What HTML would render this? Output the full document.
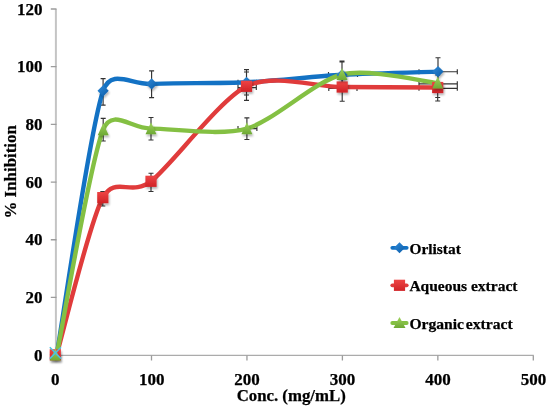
<!DOCTYPE html><html><head><meta charset="utf-8"><style>html,body{margin:0;padding:0;background:#fff;}svg{display:block}text{font-family:"Liberation Serif","Times New Roman",serif;font-weight:bold;fill:#000;stroke:#000;stroke-width:0.25px}</style></head><body>
<svg width="550" height="408" viewBox="0 0 550 408">
<defs>
<linearGradient id="gB" x1="0" y1="0" x2="1" y2="1"><stop offset="0" stop-color="#2F8BDA"/><stop offset="1" stop-color="#0B5CA8"/></linearGradient>
<linearGradient id="gR" x1="0" y1="0" x2="0" y2="1"><stop offset="0" stop-color="#EE4444"/><stop offset="1" stop-color="#D02226"/></linearGradient>
<linearGradient id="gG" x1="0" y1="0" x2="0" y2="1"><stop offset="0" stop-color="#9ED35C"/><stop offset="1" stop-color="#6EA934"/></linearGradient>
<filter id="sh" x="-50%" y="-50%" width="200%" height="200%"><feGaussianBlur in="SourceAlpha" stdDeviation="1"/><feOffset dx="1.2" dy="1.5"/><feComponentTransfer><feFuncA type="linear" slope="0.3"/></feComponentTransfer><feMerge><feMergeNode/><feMergeNode in="SourceGraphic"/></feMerge></filter>
</defs>
<path d="M55.9,9 V355" stroke="#c4c4c4" stroke-width="2" fill="none"/>
<path d="M55,355.4 H533.8" stroke="#ababab" stroke-width="1.4" fill="none"/>
<path d="M50.8,355.10 H56.5 M50.8,297.42 H56.5 M50.8,239.73 H56.5 M50.8,182.05 H56.5 M50.8,124.37 H56.5 M50.8,66.68 H56.5 M50.8,9.00 H56.5 M151.50,355.4 V360.4 M246.95,355.4 V360.4 M342.40,355.4 V360.4 M437.85,355.4 V360.4 M533.30,355.4 V360.4 " stroke="#9c9c9c" stroke-width="1.3" fill="none"/>
<text x="42.6" y="360.7" font-size="17" text-anchor="end">0</text>
<text x="42.6" y="303.0" font-size="17" text-anchor="end">20</text>
<text x="42.6" y="245.3" font-size="17" text-anchor="end">40</text>
<text x="42.6" y="187.7" font-size="17" text-anchor="end">60</text>
<text x="42.6" y="130.0" font-size="17" text-anchor="end">80</text>
<text x="42.6" y="72.3" font-size="17" text-anchor="end">100</text>
<text x="42.6" y="14.6" font-size="17" text-anchor="end">120</text>
<text x="55.3" y="384.7" font-size="17" text-anchor="middle">0</text>
<text x="151.7" y="384.7" font-size="17" text-anchor="middle">100</text>
<text x="247.1" y="384.7" font-size="17" text-anchor="middle">200</text>
<text x="342.6" y="384.7" font-size="17" text-anchor="middle">300</text>
<text x="438.0" y="384.7" font-size="17" text-anchor="middle">400</text>
<text x="533.5" y="384.7" font-size="17" text-anchor="middle">500</text>
<text x="291.2" y="400.8" font-size="16.8" text-anchor="middle">Conc. (mg/mL)</text>
<text transform="translate(16,171.8) rotate(-90)" x="0" y="0" font-size="16.9" text-anchor="middle">% Inhibition</text>
<path d="M103.1,78.6 V105.1 M100.6,78.6 H105.6 M100.6,105.1 H105.6 M151.6,70.8 V97.6 M149.1,70.8 H154.1 M149.1,97.6 H154.1 M246.5,69.6 V95.0 M244.0,69.6 H249.0 M244.0,95.0 H249.0 M342.0,61.0 V88.0 M339.5,61.0 H344.5 M339.5,88.0 H344.5 M438.0,57.7 V84.7 M435.5,57.7 H440.5 M435.5,84.7 H440.5 M238.0,82.3 H256.3 M238.0,79.8 V84.8 M256.3,79.8 V84.8 M328.5,74.5 H357.5 M328.5,72.0 V77.0 M357.5,72.0 V77.0 M419.0,71.7 H457.3 M419.0,69.2 V74.2 M457.3,69.2 V74.2 M102.8,191.5 V206.0 M100.3,191.5 H105.3 M100.3,206.0 H105.3 M151.0,173.2 V191.5 M148.5,173.2 H153.5 M148.5,191.5 H153.5 M246.5,72.0 V100.4 M244.0,72.0 H249.0 M244.0,100.4 H249.0 M342.2,73.0 V101.2 M339.7,73.0 H344.7 M339.7,101.2 H344.7 M437.7,75.0 V101.0 M435.2,75.0 H440.2 M435.2,101.0 H440.2 M238.0,87.6 H256.3 M238.0,85.1 V90.1 M256.3,85.1 V90.1 M328.8,88.5 H357.0 M328.8,86.0 V91.0 M357.0,86.0 V91.0 M419.0,88.3 H457.3 M419.0,85.8 V90.8 M457.3,85.8 V90.8 M103.2,118.4 V141.0 M100.7,118.4 H105.7 M100.7,141.0 H105.7 M151.0,117.5 V140.0 M148.5,117.5 H153.5 M148.5,140.0 H153.5 M246.9,117.8 V139.5 M244.4,117.8 H249.4 M244.4,139.5 H249.4 M342.0,62.0 V88.0 M339.5,62.0 H344.5 M339.5,88.0 H344.5 M437.7,72.0 V97.5 M435.2,72.0 H440.2 M435.2,97.5 H440.2 M238.0,128.6 H256.9 M238.0,126.1 V131.1 M256.9,126.1 V131.1 M419.0,83.8 H457.3 M419.0,81.3 V86.3 M457.3,81.3 V86.3 " stroke="#333333" stroke-width="1.15" fill="none"/>
<path d="M56.80,354.30 C63.28,317.41 89.83,128.66 103.10,90.80 C111.20,67.69 131.52,85.09 151.60,83.90 C171.68,82.71 219.84,83.57 246.50,82.30 C273.16,81.03 315.19,76.30 342.00,74.80 C368.81,73.30 424.56,72.05 438.00,71.60" stroke="#1372C4" stroke-width="4.4" fill="none" stroke-linejoin="round" stroke-linecap="round"/>
<path d="M56.80,354.30 C63.24,332.36 89.61,221.82 102.80,197.60 C114.97,175.26 130.89,196.88 151.00,181.30 C171.12,165.72 219.73,99.50 246.50,86.30 C273.27,73.10 315.43,86.83 342.20,87.00 C368.97,87.17 424.33,87.43 437.70,87.50" stroke="#E03B3B" stroke-width="4.4" fill="none" stroke-linejoin="round" stroke-linecap="round"/>
<path d="M56.80,354.30 C63.30,322.84 90.01,161.20 103.20,129.60 C112.41,107.54 130.88,128.74 151.00,128.60 C171.12,128.46 220.16,136.17 246.90,128.60 C273.64,121.03 315.29,80.88 342.00,74.50 C368.71,68.12 424.30,81.81 437.70,83.00" stroke="#84C043" stroke-width="4.4" fill="none" stroke-linejoin="round" stroke-linecap="round"/>
<g>
<path d="M55.3,349.2 L60.9,354.8 L55.3,360.40000000000003 L49.699999999999996,354.8 Z" fill="url(#gB)" filter="url(#sh)"/>
<path d="M103.1,85.2 L108.69999999999999,90.8 L103.1,96.39999999999999 L97.5,90.8 Z" fill="url(#gB)" filter="url(#sh)"/>
<path d="M151.6,78.30000000000001 L157.2,83.9 L151.6,89.5 L146.0,83.9 Z" fill="url(#gB)" filter="url(#sh)"/>
<path d="M246.5,76.7 L252.1,82.3 L246.5,87.89999999999999 L240.9,82.3 Z" fill="url(#gB)" filter="url(#sh)"/>
<path d="M342,69.2 L347.6,74.8 L342,80.39999999999999 L336.4,74.8 Z" fill="url(#gB)" filter="url(#sh)"/>
<path d="M438,66.0 L443.6,71.6 L438,77.19999999999999 L432.4,71.6 Z" fill="url(#gB)" filter="url(#sh)"/>
<rect x="49.699999999999996" y="349.2" width="11.2" height="11.2" fill="url(#gR)" filter="url(#sh)"/>
<rect x="97.2" y="192.0" width="11.2" height="11.2" fill="url(#gR)" filter="url(#sh)"/>
<rect x="145.4" y="175.70000000000002" width="11.2" height="11.2" fill="url(#gR)" filter="url(#sh)"/>
<rect x="240.9" y="80.7" width="11.2" height="11.2" fill="url(#gR)" filter="url(#sh)"/>
<rect x="336.59999999999997" y="81.4" width="11.2" height="11.2" fill="url(#gR)" filter="url(#sh)"/>
<rect x="432.09999999999997" y="81.9" width="11.2" height="11.2" fill="url(#gR)" filter="url(#sh)"/>
<path d="M55.3,348.4 L60.8,360.40000000000003 L49.8,360.40000000000003 Z" fill="url(#gG)" filter="url(#sh)"/>
<path d="M103.2,123.2 L108.7,135.2 L97.7,135.2 Z" fill="url(#gG)" filter="url(#sh)"/>
<path d="M151,122.2 L156.5,134.2 L145.5,134.2 Z" fill="url(#gG)" filter="url(#sh)"/>
<path d="M246.9,122.2 L252.4,134.2 L241.4,134.2 Z" fill="url(#gG)" filter="url(#sh)"/>
<path d="M342,68.10000000000001 L347.5,80.1 L336.5,80.1 Z" fill="url(#gG)" filter="url(#sh)"/>
<path d="M437.7,76.60000000000001 L443.2,88.6 L432.2,88.6 Z" fill="url(#gG)" filter="url(#sh)"/>
</g>
<path d="M49.8,347.2 L61,358.6 M61,347.2 L49.8,358.6" stroke="#4FC0DE" stroke-width="1.5"/>
<path d="M392.3,247.8 H406.7" stroke="#1372C4" stroke-width="3.8" stroke-linecap="round"/>
<path d="M399.5,242.3 L405.0,247.8 L399.5,253.3 L394.0,247.8 Z" fill="url(#gB)"/>
<path d="M392.3,285.3 H406.7" stroke="#E03B3B" stroke-width="3.8" stroke-linecap="round"/>
<rect x="393.9" y="279.7" width="11.2" height="11.2" fill="url(#gR)"/>
<path d="M392.3,323 H406.7" stroke="#84C043" stroke-width="3.8" stroke-linecap="round"/>
<path d="M399.5,317.1 L405.5,327.9 L393.5,327.9 Z" fill="url(#gG)"/>
<text x="409.5" y="253.5" font-size="15.4">Orlistat</text>
<text x="409.4" y="291" font-size="15.5">Aqueous extract</text>
<text x="409.4" y="328.7" font-size="15.6" word-spacing="-2.0">Organic extract</text>
</svg></body></html>
